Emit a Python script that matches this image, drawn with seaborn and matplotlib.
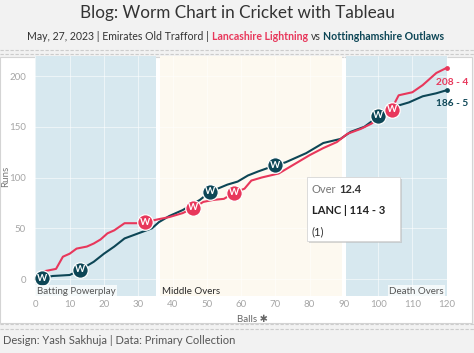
import matplotlib
matplotlib.use("Agg")
import matplotlib.pyplot as plt
import seaborn as sns
from matplotlib.patches import Rectangle
from matplotlib.lines import Line2D

# ---------------- data ----------------
lanc_balls = [1, 3, 6, 8, 10, 12, 15, 17, 19, 21, 23, 26, 30, 32, 36, 39, 43, 46, 49, 52,
              55, 58, 61, 63, 66, 71, 73, 76, 80, 84, 88, 91, 95, 98, 101, 104, 106, 110,
              113, 117, 120]
lanc_runs = [6, 8, 10, 22, 25, 30, 32, 35, 39, 45, 48, 55, 55, 56, 59, 61, 65, 70, 76, 78,
             79, 85, 89, 97, 100, 104, 108, 114, 122, 129, 135, 143, 148, 153, 160, 168, 181, 184,
             191, 203, 208]
notts_balls = [0, 2, 5, 10, 13, 17, 20, 23, 26, 30, 34, 36, 39, 43, 48, 51, 56, 59, 62, 65,
               70, 73, 77, 79, 84, 89, 92, 96, 100, 103, 106, 109, 113, 117, 120]
notts_runs = [0, 1, 3, 4, 9, 17, 25, 32, 40, 45, 50, 56, 62, 68, 78, 86, 93, 96, 102, 106,
              112, 115, 121, 124, 134, 138, 145, 150, 160, 166, 171, 174, 180, 183, 186]

lanc_wkt_balls = [32, 46, 58, 104]
lanc_wkt_runs = [56, 70, 85, 167]
notts_wkt_balls = [2, 13, 51, 70, 100]
notts_wkt_runs = [1, 9, 86, 112, 161]

phase_labels = ["Batting Powerplay", "Middle Overs", "Death Overs"]
phase_start = [0, 36.2, 90.5]
phase_end = [35.2, 89.5, 120]

x_ticks = [0, 10, 20, 30, 40, 50, 60, 70, 80, 90, 100, 110, 120]
y_ticks = [0, 50, 100, 150, 200]
final_scores = ["208 - 4", "186 - 5"]
tooltip_over = "12.4"
tooltip_score = "LANC | 114 - 3"

# ---------------- style ----------------
sns.set_theme(style="white")
plt.rcParams["font.family"] = ["Lato", "DejaVu Sans"]

RED = "#e8375b"
DARK = "#0d4656"
BLUE_BAND = "#d7e8ef"
CREAM_BAND = "#fdf9f0"
BG = "#f2f2f2"

W, H = 474, 353
fig = plt.figure(figsize=(W / 100, H / 100), dpi=100)
fig.patch.set_facecolor(BG)


def fx(x):
    return x / W


def fy(y):
    return 1 - y / H


# white dashboard panel
fig.patches.append(Rectangle((0, fy(323)), fx(472), fy(57) - fy(323),
                             transform=fig.transFigure, facecolor="white",
                             edgecolor="#d4d4d4", lw=0.8, zorder=-10))
for yy in (50, 53.5, 323.5, 329):
    fig.lines.append(Line2D([0, 1], [fy(yy), fy(yy)], transform=fig.transFigure,
                            color="#cccccc", lw=0.8, linestyle=(0, (3, 1.5)), zorder=-5))

ax = fig.add_axes([fx(30), fy(296), fx(472) - fx(30), fy(56) - fy(296)])
ax.set_facecolor("none")
ax.set_xlim(-1.6, 127.4)
ax.set_ylim(-16.7, 219.7)

band_colors = [BLUE_BAND, CREAM_BAND, BLUE_BAND]
for s, e, c in zip(phase_start, phase_end, band_colors):
    ax.axvspan(s, e, color=c, lw=0, zorder=0)

ax.set_xticks(x_ticks)
ax.set_yticks(y_ticks)
ax.grid(True, color="white", lw=0.7, alpha=0.55, zorder=0.5)
ax.set_axisbelow(True)
for sp in ax.spines.values():
    sp.set_visible(False)
ax.tick_params(length=0, labelsize=7, labelcolor="#a6a6a6", pad=3)

# worm lines
sns.lineplot(x=notts_balls, y=notts_runs, color=DARK, lw=1.5, ax=ax, zorder=2)
sns.lineplot(x=lanc_balls, y=lanc_runs, color=RED, lw=1.5, ax=ax, zorder=2.1)
sns.scatterplot(x=[notts_balls[-1]], y=[notts_runs[-1]], color=DARK, s=12, lw=0, ax=ax, zorder=3)
sns.scatterplot(x=[lanc_balls[-1]], y=[lanc_runs[-1]], color=RED, s=12, lw=0, ax=ax, zorder=3)

# wickets
sns.scatterplot(x=notts_wkt_balls, y=notts_wkt_runs, color=DARK, s=125,
                edgecolor="white", linewidth=0.9, ax=ax, zorder=4)
for b, r in zip(notts_wkt_balls, notts_wkt_runs):
    ax.text(b, r, "W", color="white", fontsize=7, fontweight="bold",
            ha="center", va="center", zorder=4.1)
sns.scatterplot(x=lanc_wkt_balls, y=lanc_wkt_runs, color=RED, s=125,
                edgecolor="white", linewidth=0.9, ax=ax, zorder=5)
for b, r in zip(lanc_wkt_balls, lanc_wkt_runs):
    ax.text(b, r, "W", color="white", fontsize=7, fontweight="bold",
            ha="center", va="center", zorder=5.1)

# final score labels
ax.text(116.8, 194, final_scores[0], color=RED, fontsize=7.3, fontweight="bold",
        ha="left", va="center", zorder=6)
ax.text(116.8, 172.5, final_scores[1], color=DARK, fontsize=7.3, fontweight="bold",
        ha="left", va="center", zorder=6)

# phase labels
bb = dict(boxstyle="square,pad=0.15", facecolor="white", edgecolor="none", alpha=0.75)
ax.text(0.4, -11.8, phase_labels[0], fontsize=7, color="#555555", ha="left",
        va="center", bbox=bb, zorder=6)
ax.text(37.0, -11.8, phase_labels[1], fontsize=7, color="#2a2a2a", ha="left",
        va="center", zorder=6)
ax.text(119.2, -11.8, phase_labels[2], fontsize=7, color="#555555", ha="right",
        va="center", bbox=bb, zorder=6)

ax.set_xlabel("Balls \u2731", fontsize=7, color="#666666")
ax.set_ylabel("Runs", fontsize=7, color="#777777")
ax.xaxis.set_label_coords((252 - 30) / 442, (296 - 315) / 240)
ax.yaxis.set_label_coords((10 - 30) / 442, 0.5)

renderer = fig.canvas.get_renderer()


def rich(pieces, y_px, x_px, size, center=True):
    texts, widths = [], []
    for s, c, w in pieces:
        t = fig.text(0, 0, s, color=c, fontweight=w, fontsize=size,
                     ha="left", va="center", zorder=20)
        widths.append(t.get_window_extent(renderer).width)
        texts.append(t)
    gap = size * 1.389 * 0.26
    total = sum(widths) + gap * (len(texts) - 1)
    x = x_px - total / 2 if center else x_px
    for t, w in zip(texts, widths):
        t.set_position((fx(x), fy(y_px)))
        x += w + gap


# titles
fig.text(0.5, fy(13), "Blog: Worm Chart in Cricket with Tableau", ha="center",
         va="center", fontsize=12.3, color="#333333")
rich([("May, 27, 2023 | Emirates Old Trafford |", "#333333", "normal"),
      ("Lancashire Lightning", RED, "bold"),
      ("vs", "#333333", "normal"),
      ("Nottinghamshire Outlaws", DARK, "bold")], 36.5, 236, 7.6)

# tooltip
fig.patches.append(Rectangle((fx(309), fy(243)), fx(93), fy(177) - fy(241),
                             transform=fig.transFigure, facecolor="#bdbdbd",
                             edgecolor="none", alpha=0.6, zorder=15))
fig.patches.append(Rectangle((fx(307), fy(241)), fx(93), fy(177) - fy(241),
                             transform=fig.transFigure, facecolor="white",
                             edgecolor="#d6d6d6", lw=0.6, zorder=16))
rich([("Over", "#777777", "normal"), (tooltip_over, "#333333", "bold")], 189.5, 312, 8,
     center=False)
fig.text(fx(312), fy(210.5), tooltip_score, fontsize=8, fontweight="bold",
         color="#222222", ha="left", va="center", zorder=20)
fig.text(fx(312), fy(232), "(1)", fontsize=8, color="#333333", ha="left",
         va="center", zorder=20)

# footer
fig.text(fx(3), fy(341), "Design: Yash Sakhuja | Data: Primary Collection",
         fontsize=8, color="#555555", ha="left", va="center")

fig.savefig("out.png", dpi=100, facecolor=fig.get_facecolor())
